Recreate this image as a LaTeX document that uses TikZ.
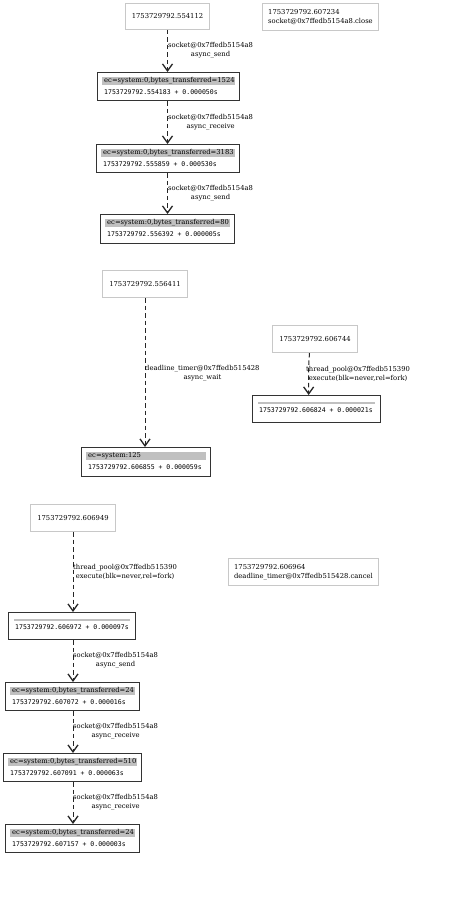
\documentclass[tikz,border=0pt]{standalone}
\usepackage{fontspec}
\setmainfont{DejaVu Serif}
\newfontfamily\monof{DejaVu Sans Mono}
\usetikzlibrary{arrows.meta,calc}
\definecolor{lightedge}{HTML}{C8C8C8}
\definecolor{darkedge}{HTML}{333333}
\definecolor{barfill}{HTML}{C0C0C0}
\tikzset{
  sertext/.style={font=\fontsize{6.8}{9}\selectfont, inner sep=0pt},
  evbox/.style={sertext, draw=lightedge, line width=1pt, anchor=north west, align=left},
  resbox/.style={draw=darkedge, line width=1.3pt, inner sep=0pt, anchor=north west},
  montext/.style={font=\monof\fontsize{6.5}{8}\selectfont, inner sep=0pt, anchor=west},
  ectext/.style={sertext, anchor=west},
  flow/.style={draw=black!85, dash pattern=on 4.5pt off 3pt, line width=1pt,
    -{Straight Barb[length=7pt,width=10pt,line width=1.3pt]}},
  elabel/.style={sertext, align=center, anchor=west}
}
\begin{document}
\begin{tikzpicture}[x=1pt,y=-1pt]
\useasboundingbox (0,0) rectangle (474,909);

% plain event boxes
\node[evbox, minimum width=84pt, minimum height=26pt] (A) at (125,3) {1753729792.554112};
\node[evbox, minimum width=116pt, minimum height=27pt] (B) at (262,3) {1753729792.607234\\socket@0x7ffedb5154a8.close};
\node[evbox, minimum width=85pt, minimum height=27pt] (F) at (102,270) {1753729792.556411};
\node[evbox, minimum width=85pt, minimum height=27pt] (G) at (272,325) {1753729792.606744};
\node[evbox, minimum width=85pt, minimum height=27pt] (J) at (30,504) {1753729792.606949};
\node[evbox, minimum width=150pt, minimum height=27pt] (K) at (228,558) {1753729792.606964\\deadline\_timer@0x7ffedb515428.cancel};

% result boxes with ec bar
\newcommand\ecres[7]{%
  \node[resbox, minimum width=#4pt, minimum height=#5pt] (#1) at (#2,#3) {};
  \fill[barfill] ($(#1.north west)+(5,5)$) rectangle ($(#1.north east)+(-5,13)$);
  \node[ectext] (#1e) at ($(#1.north west)+(7,9)$) {#6};
  \node[montext] (#1m) at ($(#1.north west)+(7,20)$) {#7};
}
\newcommand\blankres[6]{%
  \node[resbox, minimum width=#4pt, minimum height=#5pt] (#1) at (#2,#3) {};
  \fill[barfill] ($(#1.north west)+(6,6.5)$) rectangle ($(#1.north east)+(-6,8.5)$);
  \node[montext] (#1m) at ($(#1.north west)+(7,15)$) {#6};
}
\ecres{C}{97}{72}{142}{28}{ec=system:0,bytes\_transferred=1524}{1753729792.554183 + 0.000050s}
\ecres{D}{96}{144}{143}{28}{ec=system:0,bytes\_transferred=3183}{1753729792.555859 + 0.000530s}
\ecres{E}{100}{214}{134}{29}{ec=system:0,bytes\_transferred=80}{1753729792.556392 + 0.000005s}
\blankres{H}{252}{395}{128}{27}{1753729792.606824 + 0.000021s}
\ecres{I}{81}{447}{129}{29}{ec=system:125}{1753729792.606855 + 0.000059s}
\blankres{L}{8}{612}{127}{27}{1753729792.606972 + 0.000097s}
\ecres{M}{5}{682}{134}{28}{ec=system:0,bytes\_transferred=24}{1753729792.607072 + 0.000016s}
\ecres{N}{3}{753}{138}{28}{ec=system:0,bytes\_transferred=510}{1753729792.607091 + 0.000063s}
\ecres{O}{5}{824}{134}{28}{ec=system:0,bytes\_transferred=24}{1753729792.607157 + 0.000003s}

% connectors
\draw[flow] (A.south) -- (A.south |- C.north);
\draw[flow] (A.south |- C.south) -- (A.south |- D.north);
\draw[flow] (A.south |- D.south) -- (A.south |- E.north);
\draw[flow] (F.south) -- (F.south |- I.north);
\draw[flow] ($(G.south)+(-5.5,0)$) .. controls ($(G.south)+(-7,20)$) and ($(H.north)+(-8,-20)$) .. ($(H.north)+(-8,0)$);
\draw[flow] (J.south) -- (J.south |- L.north);
\draw[flow] (J.south |- L.south) -- (J.south |- M.north);
\draw[flow] (J.south |- M.south) -- (J.south |- N.north);
\draw[flow] (J.south |- N.south) -- (J.south |- O.north);

% connector labels
\node[elabel] (lAC) at (168,50.5) {socket@0x7ffedb5154a8\\async\_send};
\node[elabel] (lCD) at (168,122.5) {socket@0x7ffedb5154a8\\async\_receive};
\node[elabel] (lDE) at (168,193) {socket@0x7ffedb5154a8\\async\_send};
\node[elabel] (lFI) at (145,373.5) {deadline\_timer@0x7ffedb515428\\async\_wait};
\node[elabel] (lGH) at (306,373.5) {thread\_pool@0x7ffedb515390\\execute(blk=never,rel=fork)};
\node[elabel] (lJL) at (73,571.5) {thread\_pool@0x7ffedb515390\\execute(blk=never,rel=fork)};
\node[elabel] (lLM) at (73,660) {socket@0x7ffedb5154a8\\async\_send};
\node[elabel] (lMN) at (73,731) {socket@0x7ffedb5154a8\\async\_receive};
\node[elabel] (lNO) at (73,802) {socket@0x7ffedb5154a8\\async\_receive};
\end{tikzpicture}
\end{document}
